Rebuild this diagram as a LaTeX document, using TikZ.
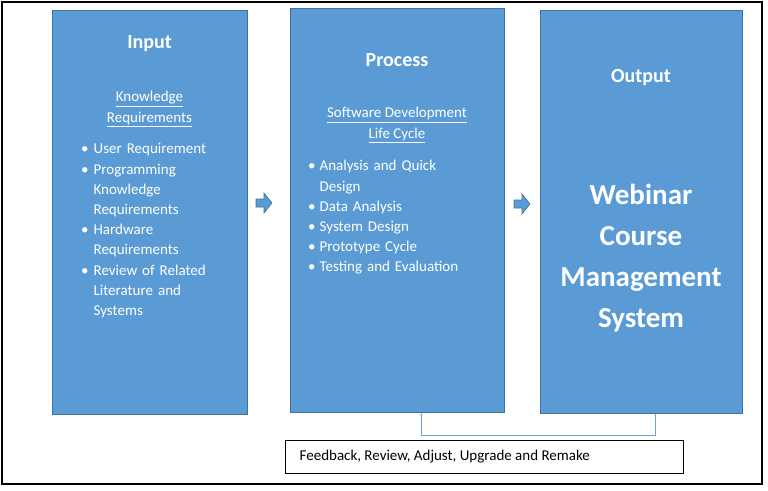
\documentclass[tikz,border=0pt]{standalone}
\usepackage{fontspec}
\setmainfont{Carlito}
\usepackage{enumitem}
\usetikzlibrary{positioning, calc}
\definecolor{boxblue}{HTML}{5B9BD5}
\definecolor{boxline}{HTML}{41719C}
\definecolor{fbline}{HTML}{6FA0DC}

\newcommand{\blist}[2]{\begin{itemize}[leftmargin=#1,itemsep=0pt,topsep=0pt,parsep=0pt,label=\textbullet]#2\end{itemize}}
\newcommand{\blockarrow}[1]{\draw[draw=boxline, fill=boxblue] ($(#1)+(-8,-4)$) -- ++(8,0) -- ++(0,-6) -- ++(8,10) -- ++(-8,10) -- ++(0,-6) -- ++(-8,0) -- cycle;}

\begin{document}
\begin{tikzpicture}[x=1pt, y=-1pt, semithick]
\tikzset{stage/.style={draw=boxline, fill=boxblue, line width=1pt},
  txt/.style={text=white, font=\fontsize{15}{20.2}\selectfont},
  head/.style={text=white, font=\bfseries\fontsize{20}{20}\selectfont}}

\useasboundingbox (0,0) rectangle (768,490);
\draw[line width=1.5pt] (2,2) rectangle (762,484);

\draw[stage] (52,10) rectangle (247,414);
\draw[stage] (290,8) rectangle (504,412);
\draw[stage] (540,10) rectangle (742,413);

% input
\node[head] (inhead) at (149.5,44) {Input};
\node[txt, align=center] (inknow) at (149.5,109) {\underline{Knowledge}\\\underline{Requirements}};
\node[txt, text width=150pt, anchor=north west] (inlist) at (68,130) {\blist{22pt}{
 \item User Requirement
 \item Programming Knowledge Requirements
 \item Hardware Requirements
 \item Review of Related Literature and Systems}};

% process
\node[head] (prhead) at (397,60) {Process};
\node[txt, align=center] (prsdlc) at (397,125) {\underline{Software Development}\\\underline{Life Cycle}};
\node[txt, text width=172pt, anchor=north west] (prlist) at (302,147) {\begin{itemize}[leftmargin=14pt,labelsep=4pt,itemsep=0pt,topsep=0pt,parsep=0pt,label=\textbullet]
 \item Analysis and Quick Design
 \item Data Analysis
 \item System Design
 \item Prototype Cycle
 \item Testing and Evaluation\end{itemize}};

% output
\node[head] (outhead) at (641,78) {Output};
\node[text=white, align=center, font=\bfseries\fontsize{29}{41}\selectfont] (outname) at (641,258) {Webinar\\Course\\Management\\System};

\coordinate (arr1) at (264,203);
\coordinate (arr2) at (522,204);
\blockarrow{arr1}
\blockarrow{arr2}

% feedback
\node[draw, line width=1pt, minimum width=398pt, minimum height=33pt, anchor=north west, inner sep=0pt] (fb) at (285,440) {};
\node[font=\fontsize{15}{16}\selectfont, anchor=west] (fbtext) at (296,457) {Feedback, Review, Adjust, Upgrade and Remake};
\coordinate (fbstart) at (655,414);
\coordinate (fbcorner) at (655,435);
\draw[fbline, thin, ->] (fbstart) -- (fbcorner) -- (421,435) -- (421,413.5);
\end{tikzpicture}
\end{document}
